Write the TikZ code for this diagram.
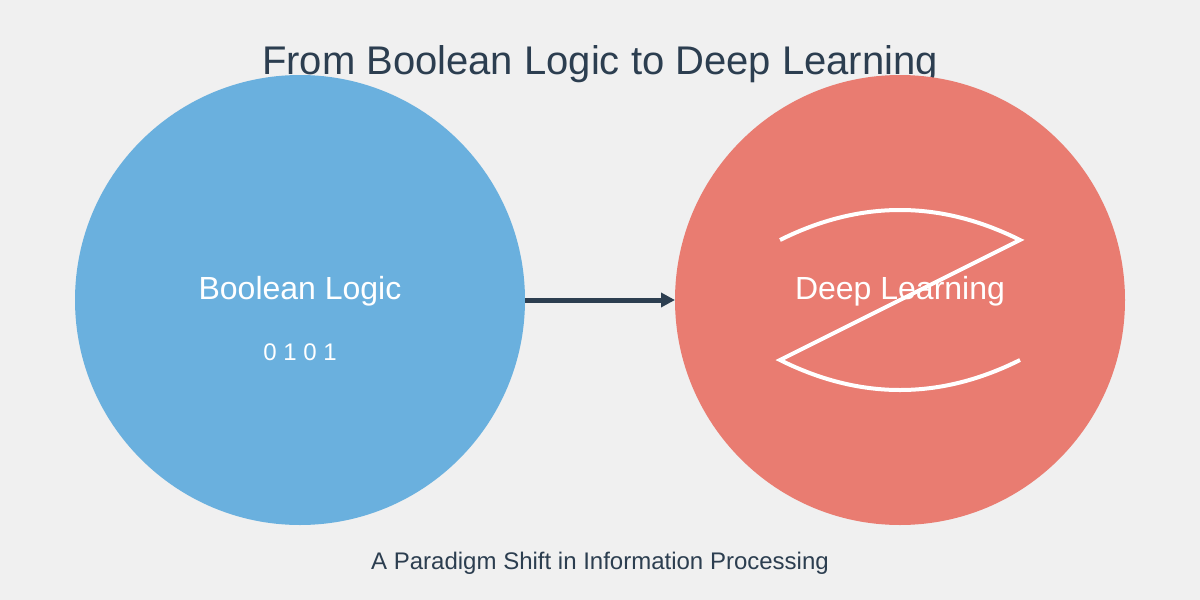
\documentclass[tikz,border=0pt]{standalone}
\usepackage{fontspec}
\setmainfont{Liberation Sans}
\usetikzlibrary{arrows.meta}
\definecolor{bg}{HTML}{F0F0F0}
\definecolor{dark}{HTML}{2C3E50}
\definecolor{blueC}{HTML}{6AB0DE}
\definecolor{redC}{HTML}{E97C71}
\tikzset{txt/.style={inner sep=0pt,anchor=base}}
\begin{document}
\begin{tikzpicture}[x=1pt,y=-1pt]
\useasboundingbox[fill=bg] (0,0) rectangle (1200,600);
\node[txt,text=dark,font=\fontsize{40}{48}\selectfont] (title) at (600,74) {From Boolean Logic to Deep Learning};
\fill[blueC] (300,300) circle[radius=225];
\fill[redC] (900,300) circle[radius=225];
\coordinate (a1) at (525,300);
\coordinate (a2) at (675,300);
\draw[dark,line width=5,-{Triangle[length=14,width=14]}] (a1) -- (a2);
\node[txt,text=white,font=\fontsize{32}{38}\selectfont] (bl) at (300,299) {Boolean Logic};
\node[txt,text=white,font=\fontsize{24}{28}\selectfont] (bits) at (300,360) {0 1 0 1};
\node[txt,text=white,font=\fontsize{32}{38}\selectfont] (dl) at (900,299) {Deep Learning};
\draw[white,line width=4] (780,240) .. controls (860,200) and (940,200) .. (1020,240)
  -- (780,360) .. controls (860,400) and (940,400) .. (1020,360);
\node[txt,text=dark,font=\fontsize{24}{28}\selectfont] (sub) at (600,569) {A Paradigm Shift in Information Processing};
\end{tikzpicture}
\end{document}
